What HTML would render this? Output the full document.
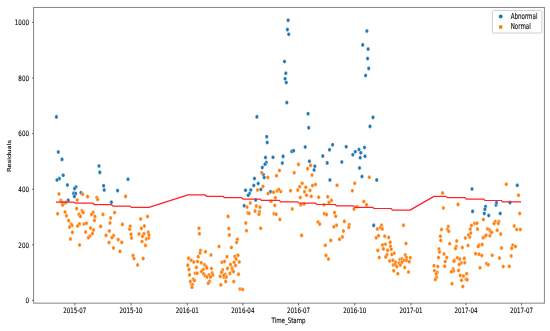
<!DOCTYPE html>
<html lang="en"><head><meta charset="utf-8"><title>Residuals</title>
<style>
html,body{margin:0;padding:0;background:#fff;}
body{width:550px;height:331px;overflow:hidden;}
svg{display:block;}
text{font-family:"DejaVu Sans","Liberation Sans",sans-serif;fill:#000;stroke:#000;stroke-width:0.12px;}
</style></head><body>
<svg width="550" height="331" viewBox="0 0 550 331">
<defs><filter id="soft" x="-5%" y="-5%" width="110%" height="110%"><feGaussianBlur stdDeviation="0.32"/></filter></defs>
<rect width="550" height="331" fill="#fff"/>
<g filter="url(#soft)">
<g fill="#1f77b4" stroke="#fff" stroke-width="0.35">
<ellipse cx="56.4" cy="116.9" rx="1.7" ry="2.05"/>
<ellipse cx="58.3" cy="152.0" rx="1.7" ry="2.05"/>
<ellipse cx="62.0" cy="159.4" rx="1.7" ry="2.05"/>
<ellipse cx="63.2" cy="175.2" rx="1.7" ry="2.05"/>
<ellipse cx="59.4" cy="178.6" rx="1.7" ry="2.05"/>
<ellipse cx="57.0" cy="180.0" rx="1.7" ry="2.05"/>
<ellipse cx="67.4" cy="185.0" rx="1.7" ry="2.05"/>
<ellipse cx="76.0" cy="187.0" rx="1.7" ry="2.05"/>
<ellipse cx="74.6" cy="188.6" rx="1.7" ry="2.05"/>
<ellipse cx="73.6" cy="193.4" rx="1.7" ry="2.05"/>
<ellipse cx="75.6" cy="193.6" rx="1.7" ry="2.05"/>
<ellipse cx="74.4" cy="196.4" rx="1.7" ry="2.05"/>
<ellipse cx="81.0" cy="192.8" rx="1.7" ry="2.05"/>
<ellipse cx="68.2" cy="200.2" rx="1.7" ry="2.05"/>
<ellipse cx="64.0" cy="203.0" rx="1.7" ry="2.05"/>
<ellipse cx="99.0" cy="166.0" rx="1.7" ry="2.05"/>
<ellipse cx="99.8" cy="172.4" rx="1.7" ry="2.05"/>
<ellipse cx="103.6" cy="185.8" rx="1.7" ry="2.05"/>
<ellipse cx="104.2" cy="190.0" rx="1.7" ry="2.05"/>
<ellipse cx="117.6" cy="190.6" rx="1.7" ry="2.05"/>
<ellipse cx="128.0" cy="179.2" rx="1.7" ry="2.05"/>
<ellipse cx="111.4" cy="202.2" rx="1.7" ry="2.05"/>
<ellipse cx="245.5" cy="190.3" rx="1.7" ry="2.05"/>
<ellipse cx="250.8" cy="190.0" rx="1.7" ry="2.05"/>
<ellipse cx="249.5" cy="193.5" rx="1.7" ry="2.05"/>
<ellipse cx="248.2" cy="195.2" rx="1.7" ry="2.05"/>
<ellipse cx="255.7" cy="200.0" rx="1.7" ry="2.05"/>
<ellipse cx="244.2" cy="205.8" rx="1.7" ry="2.05"/>
<ellipse cx="270.5" cy="191.8" rx="1.7" ry="2.05"/>
<ellipse cx="260.8" cy="189.5" rx="1.7" ry="2.05"/>
<ellipse cx="265.5" cy="157.5" rx="1.7" ry="2.05"/>
<ellipse cx="273.0" cy="157.3" rx="1.7" ry="2.05"/>
<ellipse cx="266.3" cy="162.5" rx="1.7" ry="2.05"/>
<ellipse cx="265.0" cy="164.2" rx="1.7" ry="2.05"/>
<ellipse cx="262.3" cy="167.5" rx="1.7" ry="2.05"/>
<ellipse cx="263.5" cy="174.8" rx="1.7" ry="2.05"/>
<ellipse cx="264.2" cy="177.5" rx="1.7" ry="2.05"/>
<ellipse cx="254.5" cy="178.5" rx="1.7" ry="2.05"/>
<ellipse cx="258.2" cy="183.5" rx="1.7" ry="2.05"/>
<ellipse cx="253.8" cy="185.5" rx="1.7" ry="2.05"/>
<ellipse cx="286.8" cy="102.6" rx="1.7" ry="2.05"/>
<ellipse cx="256.9" cy="116.9" rx="1.7" ry="2.05"/>
<ellipse cx="266.7" cy="136.7" rx="1.7" ry="2.05"/>
<ellipse cx="267.2" cy="142.5" rx="1.7" ry="2.05"/>
<ellipse cx="283.1" cy="156.4" rx="1.7" ry="2.05"/>
<ellipse cx="291.8" cy="151.4" rx="1.7" ry="2.05"/>
<ellipse cx="293.6" cy="150.7" rx="1.7" ry="2.05"/>
<ellipse cx="288.1" cy="20.3" rx="1.7" ry="2.05"/>
<ellipse cx="287.4" cy="29.6" rx="1.7" ry="2.05"/>
<ellipse cx="288.7" cy="34.3" rx="1.7" ry="2.05"/>
<ellipse cx="284.5" cy="61.5" rx="1.7" ry="2.05"/>
<ellipse cx="285.8" cy="73.2" rx="1.7" ry="2.05"/>
<ellipse cx="285.1" cy="78.7" rx="1.7" ry="2.05"/>
<ellipse cx="286.3" cy="82.5" rx="1.7" ry="2.05"/>
<ellipse cx="308.1" cy="113.7" rx="1.7" ry="2.05"/>
<ellipse cx="308.7" cy="127.8" rx="1.7" ry="2.05"/>
<ellipse cx="305.2" cy="147.0" rx="1.7" ry="2.05"/>
<ellipse cx="282.3" cy="163.1" rx="1.7" ry="2.05"/>
<ellipse cx="309.4" cy="161.2" rx="1.7" ry="2.05"/>
<ellipse cx="314.8" cy="166.3" rx="1.7" ry="2.05"/>
<ellipse cx="314.1" cy="170.0" rx="1.7" ry="2.05"/>
<ellipse cx="322.8" cy="156.1" rx="1.7" ry="2.05"/>
<ellipse cx="329.5" cy="149.7" rx="1.7" ry="2.05"/>
<ellipse cx="332.6" cy="144.8" rx="1.7" ry="2.05"/>
<ellipse cx="327.2" cy="162.9" rx="1.7" ry="2.05"/>
<ellipse cx="329.9" cy="180.0" rx="1.7" ry="2.05"/>
<ellipse cx="366.9" cy="31.0" rx="1.7" ry="2.05"/>
<ellipse cx="362.7" cy="44.9" rx="1.7" ry="2.05"/>
<ellipse cx="368.1" cy="49.1" rx="1.7" ry="2.05"/>
<ellipse cx="367.6" cy="58.6" rx="1.7" ry="2.05"/>
<ellipse cx="368.7" cy="68.4" rx="1.7" ry="2.05"/>
<ellipse cx="365.6" cy="75.5" rx="1.7" ry="2.05"/>
<ellipse cx="373.0" cy="117.4" rx="1.7" ry="2.05"/>
<ellipse cx="370.0" cy="126.4" rx="1.7" ry="2.05"/>
<ellipse cx="346.2" cy="146.7" rx="1.7" ry="2.05"/>
<ellipse cx="359.0" cy="149.5" rx="1.7" ry="2.05"/>
<ellipse cx="364.5" cy="147.5" rx="1.7" ry="2.05"/>
<ellipse cx="355.3" cy="151.8" rx="1.7" ry="2.05"/>
<ellipse cx="360.8" cy="152.8" rx="1.7" ry="2.05"/>
<ellipse cx="352.8" cy="154.8" rx="1.7" ry="2.05"/>
<ellipse cx="365.0" cy="156.2" rx="1.7" ry="2.05"/>
<ellipse cx="360.2" cy="157.7" rx="1.7" ry="2.05"/>
<ellipse cx="341.8" cy="162.0" rx="1.7" ry="2.05"/>
<ellipse cx="359.5" cy="168.0" rx="1.7" ry="2.05"/>
<ellipse cx="362.0" cy="176.5" rx="1.7" ry="2.05"/>
<ellipse cx="376.7" cy="180.0" rx="1.7" ry="2.05"/>
<ellipse cx="373.7" cy="225.4" rx="1.7" ry="2.05"/>
<ellipse cx="472.0" cy="189.0" rx="1.7" ry="2.05"/>
<ellipse cx="472.6" cy="211.4" rx="1.7" ry="2.05"/>
<ellipse cx="485.5" cy="206.6" rx="1.7" ry="2.05"/>
<ellipse cx="484.9" cy="209.3" rx="1.7" ry="2.05"/>
<ellipse cx="484.3" cy="213.5" rx="1.7" ry="2.05"/>
<ellipse cx="488.7" cy="215.5" rx="1.7" ry="2.05"/>
<ellipse cx="500.2" cy="213.5" rx="1.7" ry="2.05"/>
<ellipse cx="496.0" cy="205.0" rx="1.7" ry="2.05"/>
<ellipse cx="496.5" cy="202.7" rx="1.7" ry="2.05"/>
<ellipse cx="510.0" cy="202.6" rx="1.7" ry="2.05"/>
<ellipse cx="517.3" cy="185.3" rx="1.7" ry="2.05"/>
</g>
<g fill="#ff7f0e" stroke="#fff" stroke-width="0.35">
<ellipse cx="59.0" cy="194.0" rx="1.7" ry="2.05"/>
<ellipse cx="60.8" cy="200.6" rx="1.7" ry="2.05"/>
<ellipse cx="62.0" cy="202.4" rx="1.7" ry="2.05"/>
<ellipse cx="62.6" cy="205.0" rx="1.7" ry="2.05"/>
<ellipse cx="66.0" cy="202.4" rx="1.7" ry="2.05"/>
<ellipse cx="82.6" cy="194.2" rx="1.7" ry="2.05"/>
<ellipse cx="87.6" cy="196.6" rx="1.7" ry="2.05"/>
<ellipse cx="77.2" cy="200.0" rx="1.7" ry="2.05"/>
<ellipse cx="96.8" cy="197.6" rx="1.7" ry="2.05"/>
<ellipse cx="97.6" cy="199.4" rx="1.7" ry="2.05"/>
<ellipse cx="125.6" cy="196.4" rx="1.7" ry="2.05"/>
<ellipse cx="76.6" cy="208.6" rx="1.7" ry="2.05"/>
<ellipse cx="65.0" cy="212.0" rx="1.7" ry="2.05"/>
<ellipse cx="57.6" cy="213.8" rx="1.7" ry="2.05"/>
<ellipse cx="82.0" cy="210.8" rx="1.7" ry="2.05"/>
<ellipse cx="83.2" cy="212.4" rx="1.7" ry="2.05"/>
<ellipse cx="93.1" cy="212.4" rx="1.7" ry="2.05"/>
<ellipse cx="91.5" cy="214.4" rx="1.7" ry="2.05"/>
<ellipse cx="79.0" cy="214.4" rx="1.7" ry="2.05"/>
<ellipse cx="66.4" cy="215.8" rx="1.7" ry="2.05"/>
<ellipse cx="103.0" cy="214.4" rx="1.7" ry="2.05"/>
<ellipse cx="114.6" cy="212.5" rx="1.7" ry="2.05"/>
<ellipse cx="95.0" cy="216.5" rx="1.7" ry="2.05"/>
<ellipse cx="147.5" cy="216.5" rx="1.7" ry="2.05"/>
<ellipse cx="68.6" cy="220.6" rx="1.7" ry="2.05"/>
<ellipse cx="71.0" cy="224.0" rx="1.7" ry="2.05"/>
<ellipse cx="72.0" cy="225.4" rx="1.7" ry="2.05"/>
<ellipse cx="69.6" cy="227.0" rx="1.7" ry="2.05"/>
<ellipse cx="72.4" cy="232.4" rx="1.7" ry="2.05"/>
<ellipse cx="70.4" cy="239.0" rx="1.7" ry="2.05"/>
<ellipse cx="79.6" cy="245.0" rx="1.7" ry="2.05"/>
<ellipse cx="80.4" cy="216.4" rx="1.7" ry="2.05"/>
<ellipse cx="79.4" cy="224.0" rx="1.7" ry="2.05"/>
<ellipse cx="77.6" cy="226.0" rx="1.7" ry="2.05"/>
<ellipse cx="84.0" cy="224.0" rx="1.7" ry="2.05"/>
<ellipse cx="86.4" cy="223.2" rx="1.7" ry="2.05"/>
<ellipse cx="85.6" cy="232.0" rx="1.7" ry="2.05"/>
<ellipse cx="90.6" cy="228.0" rx="1.7" ry="2.05"/>
<ellipse cx="93.6" cy="230.0" rx="1.7" ry="2.05"/>
<ellipse cx="92.4" cy="233.6" rx="1.7" ry="2.05"/>
<ellipse cx="90.0" cy="236.0" rx="1.7" ry="2.05"/>
<ellipse cx="88.4" cy="237.6" rx="1.7" ry="2.05"/>
<ellipse cx="94.4" cy="220.4" rx="1.7" ry="2.05"/>
<ellipse cx="100.6" cy="226.4" rx="1.7" ry="2.05"/>
<ellipse cx="110.6" cy="218.0" rx="1.7" ry="2.05"/>
<ellipse cx="110.0" cy="223.0" rx="1.7" ry="2.05"/>
<ellipse cx="109.4" cy="231.0" rx="1.7" ry="2.05"/>
<ellipse cx="106.0" cy="235.4" rx="1.7" ry="2.05"/>
<ellipse cx="113.6" cy="235.6" rx="1.7" ry="2.05"/>
<ellipse cx="112.0" cy="237.6" rx="1.7" ry="2.05"/>
<ellipse cx="109.0" cy="242.6" rx="1.7" ry="2.05"/>
<ellipse cx="113.4" cy="248.0" rx="1.7" ry="2.05"/>
<ellipse cx="118.2" cy="239.6" rx="1.7" ry="2.05"/>
<ellipse cx="121.8" cy="242.4" rx="1.7" ry="2.05"/>
<ellipse cx="122.4" cy="224.4" rx="1.7" ry="2.05"/>
<ellipse cx="120.0" cy="251.4" rx="1.7" ry="2.05"/>
<ellipse cx="130.2" cy="226.2" rx="1.7" ry="2.05"/>
<ellipse cx="129.7" cy="229.2" rx="1.7" ry="2.05"/>
<ellipse cx="131.0" cy="234.2" rx="1.7" ry="2.05"/>
<ellipse cx="131.5" cy="238.0" rx="1.7" ry="2.05"/>
<ellipse cx="133.0" cy="255.6" rx="1.7" ry="2.05"/>
<ellipse cx="134.0" cy="258.6" rx="1.7" ry="2.05"/>
<ellipse cx="137.6" cy="265.0" rx="1.7" ry="2.05"/>
<ellipse cx="143.2" cy="258.6" rx="1.7" ry="2.05"/>
<ellipse cx="145.4" cy="245.4" rx="1.7" ry="2.05"/>
<ellipse cx="142.0" cy="241.5" rx="1.7" ry="2.05"/>
<ellipse cx="139.0" cy="234.0" rx="1.7" ry="2.05"/>
<ellipse cx="144.0" cy="233.8" rx="1.7" ry="2.05"/>
<ellipse cx="142.5" cy="236.3" rx="1.7" ry="2.05"/>
<ellipse cx="146.3" cy="239.0" rx="1.7" ry="2.05"/>
<ellipse cx="148.8" cy="238.0" rx="1.7" ry="2.05"/>
<ellipse cx="141.4" cy="228.4" rx="1.7" ry="2.05"/>
<ellipse cx="144.4" cy="226.0" rx="1.7" ry="2.05"/>
<ellipse cx="148.3" cy="232.4" rx="1.7" ry="2.05"/>
<ellipse cx="140.6" cy="219.0" rx="1.7" ry="2.05"/>
<ellipse cx="149.0" cy="235.0" rx="1.7" ry="2.05"/>
<ellipse cx="199.0" cy="228.2" rx="1.7" ry="2.05"/>
<ellipse cx="199.4" cy="233.8" rx="1.7" ry="2.05"/>
<ellipse cx="228.1" cy="216.4" rx="1.7" ry="2.05"/>
<ellipse cx="228.8" cy="228.6" rx="1.7" ry="2.05"/>
<ellipse cx="229.4" cy="235.0" rx="1.7" ry="2.05"/>
<ellipse cx="237.4" cy="239.3" rx="1.7" ry="2.05"/>
<ellipse cx="236.6" cy="242.5" rx="1.7" ry="2.05"/>
<ellipse cx="219.0" cy="246.5" rx="1.7" ry="2.05"/>
<ellipse cx="231.4" cy="247.5" rx="1.7" ry="2.05"/>
<ellipse cx="200.5" cy="250.5" rx="1.7" ry="2.05"/>
<ellipse cx="200.0" cy="253.0" rx="1.7" ry="2.05"/>
<ellipse cx="205.5" cy="251.8" rx="1.7" ry="2.05"/>
<ellipse cx="211.0" cy="255.0" rx="1.7" ry="2.05"/>
<ellipse cx="198.2" cy="256.7" rx="1.7" ry="2.05"/>
<ellipse cx="188.5" cy="258.3" rx="1.7" ry="2.05"/>
<ellipse cx="191.3" cy="260.3" rx="1.7" ry="2.05"/>
<ellipse cx="193.8" cy="262.0" rx="1.7" ry="2.05"/>
<ellipse cx="197.5" cy="261.5" rx="1.7" ry="2.05"/>
<ellipse cx="201.2" cy="262.8" rx="1.7" ry="2.05"/>
<ellipse cx="204.5" cy="264.8" rx="1.7" ry="2.05"/>
<ellipse cx="206.0" cy="266.2" rx="1.7" ry="2.05"/>
<ellipse cx="206.8" cy="268.0" rx="1.7" ry="2.05"/>
<ellipse cx="187.7" cy="265.2" rx="1.7" ry="2.05"/>
<ellipse cx="196.4" cy="267.4" rx="1.7" ry="2.05"/>
<ellipse cx="189.0" cy="269.4" rx="1.7" ry="2.05"/>
<ellipse cx="203.2" cy="269.5" rx="1.7" ry="2.05"/>
<ellipse cx="201.5" cy="271.5" rx="1.7" ry="2.05"/>
<ellipse cx="211.5" cy="268.5" rx="1.7" ry="2.05"/>
<ellipse cx="195.3" cy="273.2" rx="1.7" ry="2.05"/>
<ellipse cx="197.1" cy="273.2" rx="1.7" ry="2.05"/>
<ellipse cx="189.5" cy="274.9" rx="1.7" ry="2.05"/>
<ellipse cx="203.5" cy="273.7" rx="1.7" ry="2.05"/>
<ellipse cx="205.0" cy="275.8" rx="1.7" ry="2.05"/>
<ellipse cx="209.0" cy="275.0" rx="1.7" ry="2.05"/>
<ellipse cx="212.2" cy="273.0" rx="1.7" ry="2.05"/>
<ellipse cx="212.8" cy="275.1" rx="1.7" ry="2.05"/>
<ellipse cx="227.0" cy="256.8" rx="1.7" ry="2.05"/>
<ellipse cx="234.8" cy="256.6" rx="1.7" ry="2.05"/>
<ellipse cx="222.0" cy="262.2" rx="1.7" ry="2.05"/>
<ellipse cx="224.5" cy="261.5" rx="1.7" ry="2.05"/>
<ellipse cx="230.5" cy="264.5" rx="1.7" ry="2.05"/>
<ellipse cx="234.1" cy="262.3" rx="1.7" ry="2.05"/>
<ellipse cx="227.5" cy="268.4" rx="1.7" ry="2.05"/>
<ellipse cx="232.0" cy="267.7" rx="1.7" ry="2.05"/>
<ellipse cx="232.3" cy="269.5" rx="1.7" ry="2.05"/>
<ellipse cx="222.7" cy="270.0" rx="1.7" ry="2.05"/>
<ellipse cx="221.5" cy="272.3" rx="1.7" ry="2.05"/>
<ellipse cx="225.0" cy="274.3" rx="1.7" ry="2.05"/>
<ellipse cx="220.2" cy="276.4" rx="1.7" ry="2.05"/>
<ellipse cx="230.0" cy="273.4" rx="1.7" ry="2.05"/>
<ellipse cx="233.4" cy="271.5" rx="1.7" ry="2.05"/>
<ellipse cx="207.0" cy="277.0" rx="1.7" ry="2.05"/>
<ellipse cx="210.5" cy="277.0" rx="1.7" ry="2.05"/>
<ellipse cx="193.3" cy="279.3" rx="1.7" ry="2.05"/>
<ellipse cx="194.5" cy="280.5" rx="1.7" ry="2.05"/>
<ellipse cx="190.3" cy="281.5" rx="1.7" ry="2.05"/>
<ellipse cx="191.5" cy="284.5" rx="1.7" ry="2.05"/>
<ellipse cx="192.5" cy="284.8" rx="1.7" ry="2.05"/>
<ellipse cx="192.0" cy="287.2" rx="1.7" ry="2.05"/>
<ellipse cx="209.5" cy="281.3" rx="1.7" ry="2.05"/>
<ellipse cx="208.2" cy="283.2" rx="1.7" ry="2.05"/>
<ellipse cx="224.0" cy="277.3" rx="1.7" ry="2.05"/>
<ellipse cx="226.3" cy="277.1" rx="1.7" ry="2.05"/>
<ellipse cx="225.7" cy="281.6" rx="1.7" ry="2.05"/>
<ellipse cx="220.8" cy="284.9" rx="1.7" ry="2.05"/>
<ellipse cx="233.7" cy="281.5" rx="1.7" ry="2.05"/>
<ellipse cx="223.8" cy="275.5" rx="1.7" ry="2.05"/>
<ellipse cx="238.0" cy="255.3" rx="1.7" ry="2.05"/>
<ellipse cx="236.2" cy="259.0" rx="1.7" ry="2.05"/>
<ellipse cx="239.3" cy="262.0" rx="1.7" ry="2.05"/>
<ellipse cx="235.5" cy="265.5" rx="1.7" ry="2.05"/>
<ellipse cx="238.5" cy="274.2" rx="1.7" ry="2.05"/>
<ellipse cx="240.0" cy="289.0" rx="1.7" ry="2.05"/>
<ellipse cx="242.7" cy="289.5" rx="1.7" ry="2.05"/>
<ellipse cx="246.5" cy="230.7" rx="1.7" ry="2.05"/>
<ellipse cx="260.7" cy="228.3" rx="1.7" ry="2.05"/>
<ellipse cx="257.5" cy="190.0" rx="1.7" ry="2.05"/>
<ellipse cx="250.3" cy="203.0" rx="1.7" ry="2.05"/>
<ellipse cx="247.0" cy="207.0" rx="1.7" ry="2.05"/>
<ellipse cx="256.3" cy="206.0" rx="1.7" ry="2.05"/>
<ellipse cx="260.0" cy="207.2" rx="1.7" ry="2.05"/>
<ellipse cx="255.0" cy="211.1" rx="1.7" ry="2.05"/>
<ellipse cx="259.5" cy="211.7" rx="1.7" ry="2.05"/>
<ellipse cx="247.7" cy="213.0" rx="1.7" ry="2.05"/>
<ellipse cx="249.1" cy="213.3" rx="1.7" ry="2.05"/>
<ellipse cx="259.0" cy="214.2" rx="1.7" ry="2.05"/>
<ellipse cx="245.8" cy="223.1" rx="1.7" ry="2.05"/>
<ellipse cx="268.2" cy="193.5" rx="1.7" ry="2.05"/>
<ellipse cx="273.5" cy="192.2" rx="1.7" ry="2.05"/>
<ellipse cx="277.0" cy="191.0" rx="1.7" ry="2.05"/>
<ellipse cx="280.8" cy="191.5" rx="1.7" ry="2.05"/>
<ellipse cx="278.8" cy="189.5" rx="1.7" ry="2.05"/>
<ellipse cx="275.4" cy="197.8" rx="1.7" ry="2.05"/>
<ellipse cx="271.0" cy="201.2" rx="1.7" ry="2.05"/>
<ellipse cx="274.8" cy="205.5" rx="1.7" ry="2.05"/>
<ellipse cx="274.0" cy="213.8" rx="1.7" ry="2.05"/>
<ellipse cx="276.1" cy="214.2" rx="1.7" ry="2.05"/>
<ellipse cx="279.9" cy="219.5" rx="1.7" ry="2.05"/>
<ellipse cx="261.7" cy="172.7" rx="1.7" ry="2.05"/>
<ellipse cx="267.8" cy="177.5" rx="1.7" ry="2.05"/>
<ellipse cx="276.5" cy="175.8" rx="1.7" ry="2.05"/>
<ellipse cx="279.5" cy="170.5" rx="1.7" ry="2.05"/>
<ellipse cx="263.0" cy="186.5" rx="1.7" ry="2.05"/>
<ellipse cx="298.5" cy="164.4" rx="1.7" ry="2.05"/>
<ellipse cx="310.6" cy="165.4" rx="1.7" ry="2.05"/>
<ellipse cx="307.6" cy="168.7" rx="1.7" ry="2.05"/>
<ellipse cx="294.2" cy="172.8" rx="1.7" ry="2.05"/>
<ellipse cx="312.0" cy="175.0" rx="1.7" ry="2.05"/>
<ellipse cx="302.2" cy="183.3" rx="1.7" ry="2.05"/>
<ellipse cx="299.7" cy="186.7" rx="1.7" ry="2.05"/>
<ellipse cx="305.8" cy="187.2" rx="1.7" ry="2.05"/>
<ellipse cx="312.5" cy="185.5" rx="1.7" ry="2.05"/>
<ellipse cx="315.5" cy="184.5" rx="1.7" ry="2.05"/>
<ellipse cx="297.8" cy="190.1" rx="1.7" ry="2.05"/>
<ellipse cx="290.5" cy="190.7" rx="1.7" ry="2.05"/>
<ellipse cx="310.0" cy="190.5" rx="1.7" ry="2.05"/>
<ellipse cx="304.5" cy="191.8" rx="1.7" ry="2.05"/>
<ellipse cx="306.5" cy="195.2" rx="1.7" ry="2.05"/>
<ellipse cx="300.3" cy="197.5" rx="1.7" ry="2.05"/>
<ellipse cx="311.3" cy="196.3" rx="1.7" ry="2.05"/>
<ellipse cx="318.7" cy="197.2" rx="1.7" ry="2.05"/>
<ellipse cx="327.7" cy="196.8" rx="1.7" ry="2.05"/>
<ellipse cx="300.8" cy="204.8" rx="1.7" ry="2.05"/>
<ellipse cx="304.0" cy="204.0" rx="1.7" ry="2.05"/>
<ellipse cx="292.3" cy="209.0" rx="1.7" ry="2.05"/>
<ellipse cx="324.0" cy="204.8" rx="1.7" ry="2.05"/>
<ellipse cx="329.0" cy="202.5" rx="1.7" ry="2.05"/>
<ellipse cx="324.2" cy="213.8" rx="1.7" ry="2.05"/>
<ellipse cx="326.5" cy="214.6" rx="1.7" ry="2.05"/>
<ellipse cx="318.0" cy="222.0" rx="1.7" ry="2.05"/>
<ellipse cx="319.7" cy="224.1" rx="1.7" ry="2.05"/>
<ellipse cx="301.6" cy="235.4" rx="1.7" ry="2.05"/>
<ellipse cx="335.7" cy="216.3" rx="1.7" ry="2.05"/>
<ellipse cx="344.4" cy="221.4" rx="1.7" ry="2.05"/>
<ellipse cx="349.3" cy="224.7" rx="1.7" ry="2.05"/>
<ellipse cx="348.8" cy="227.2" rx="1.7" ry="2.05"/>
<ellipse cx="336.5" cy="225.3" rx="1.7" ry="2.05"/>
<ellipse cx="333.9" cy="226.7" rx="1.7" ry="2.05"/>
<ellipse cx="343.4" cy="231.0" rx="1.7" ry="2.05"/>
<ellipse cx="342.4" cy="237.0" rx="1.7" ry="2.05"/>
<ellipse cx="339.5" cy="239.3" rx="1.7" ry="2.05"/>
<ellipse cx="330.8" cy="240.4" rx="1.7" ry="2.05"/>
<ellipse cx="325.3" cy="245.3" rx="1.7" ry="2.05"/>
<ellipse cx="326.0" cy="255.4" rx="1.7" ry="2.05"/>
<ellipse cx="328.4" cy="259.0" rx="1.7" ry="2.05"/>
<ellipse cx="369.3" cy="177.3" rx="1.7" ry="2.05"/>
<ellipse cx="354.7" cy="183.2" rx="1.7" ry="2.05"/>
<ellipse cx="337.0" cy="185.2" rx="1.7" ry="2.05"/>
<ellipse cx="352.3" cy="190.7" rx="1.7" ry="2.05"/>
<ellipse cx="331.5" cy="200.5" rx="1.7" ry="2.05"/>
<ellipse cx="363.8" cy="201.5" rx="1.7" ry="2.05"/>
<ellipse cx="366.5" cy="204.7" rx="1.7" ry="2.05"/>
<ellipse cx="356.8" cy="206.8" rx="1.7" ry="2.05"/>
<ellipse cx="354.0" cy="209.0" rx="1.7" ry="2.05"/>
<ellipse cx="334.5" cy="212.5" rx="1.7" ry="2.05"/>
<ellipse cx="381.5" cy="225.2" rx="1.7" ry="2.05"/>
<ellipse cx="377.3" cy="229.0" rx="1.7" ry="2.05"/>
<ellipse cx="380.5" cy="227.8" rx="1.7" ry="2.05"/>
<ellipse cx="382.3" cy="229.0" rx="1.7" ry="2.05"/>
<ellipse cx="403.5" cy="225.3" rx="1.7" ry="2.05"/>
<ellipse cx="378.5" cy="235.8" rx="1.7" ry="2.05"/>
<ellipse cx="376.2" cy="237.8" rx="1.7" ry="2.05"/>
<ellipse cx="384.7" cy="236.3" rx="1.7" ry="2.05"/>
<ellipse cx="388.7" cy="237.5" rx="1.7" ry="2.05"/>
<ellipse cx="390.2" cy="242.2" rx="1.7" ry="2.05"/>
<ellipse cx="406.0" cy="243.5" rx="1.7" ry="2.05"/>
<ellipse cx="385.3" cy="244.3" rx="1.7" ry="2.05"/>
<ellipse cx="382.5" cy="245.0" rx="1.7" ry="2.05"/>
<ellipse cx="390.5" cy="246.4" rx="1.7" ry="2.05"/>
<ellipse cx="383.4" cy="248.9" rx="1.7" ry="2.05"/>
<ellipse cx="391.3" cy="249.2" rx="1.7" ry="2.05"/>
<ellipse cx="377.8" cy="250.4" rx="1.7" ry="2.05"/>
<ellipse cx="387.6" cy="250.4" rx="1.7" ry="2.05"/>
<ellipse cx="394.2" cy="253.2" rx="1.7" ry="2.05"/>
<ellipse cx="391.8" cy="254.5" rx="1.7" ry="2.05"/>
<ellipse cx="387.0" cy="254.8" rx="1.7" ry="2.05"/>
<ellipse cx="385.7" cy="257.0" rx="1.7" ry="2.05"/>
<ellipse cx="379.2" cy="257.5" rx="1.7" ry="2.05"/>
<ellipse cx="405.3" cy="255.0" rx="1.7" ry="2.05"/>
<ellipse cx="406.5" cy="257.5" rx="1.7" ry="2.05"/>
<ellipse cx="410.3" cy="257.8" rx="1.7" ry="2.05"/>
<ellipse cx="389.7" cy="261.0" rx="1.7" ry="2.05"/>
<ellipse cx="392.8" cy="260.2" rx="1.7" ry="2.05"/>
<ellipse cx="400.0" cy="259.5" rx="1.7" ry="2.05"/>
<ellipse cx="402.0" cy="259.0" rx="1.7" ry="2.05"/>
<ellipse cx="403.8" cy="260.5" rx="1.7" ry="2.05"/>
<ellipse cx="406.5" cy="260.2" rx="1.7" ry="2.05"/>
<ellipse cx="409.2" cy="261.8" rx="1.7" ry="2.05"/>
<ellipse cx="395.5" cy="262.2" rx="1.7" ry="2.05"/>
<ellipse cx="399.0" cy="263.0" rx="1.7" ry="2.05"/>
<ellipse cx="401.8" cy="262.2" rx="1.7" ry="2.05"/>
<ellipse cx="393.2" cy="265.0" rx="1.7" ry="2.05"/>
<ellipse cx="395.0" cy="264.5" rx="1.7" ry="2.05"/>
<ellipse cx="396.8" cy="266.5" rx="1.7" ry="2.05"/>
<ellipse cx="400.3" cy="265.0" rx="1.7" ry="2.05"/>
<ellipse cx="404.7" cy="267.5" rx="1.7" ry="2.05"/>
<ellipse cx="393.7" cy="270.7" rx="1.7" ry="2.05"/>
<ellipse cx="397.8" cy="273.7" rx="1.7" ry="2.05"/>
<ellipse cx="408.5" cy="272.0" rx="1.7" ry="2.05"/>
<ellipse cx="442.6" cy="193.0" rx="1.7" ry="2.05"/>
<ellipse cx="443.4" cy="208.0" rx="1.7" ry="2.05"/>
<ellipse cx="458.0" cy="204.4" rx="1.7" ry="2.05"/>
<ellipse cx="441.5" cy="229.5" rx="1.7" ry="2.05"/>
<ellipse cx="448.2" cy="226.6" rx="1.7" ry="2.05"/>
<ellipse cx="447.5" cy="229.5" rx="1.7" ry="2.05"/>
<ellipse cx="448.8" cy="231.2" rx="1.7" ry="2.05"/>
<ellipse cx="440.4" cy="236.2" rx="1.7" ry="2.05"/>
<ellipse cx="440.7" cy="240.5" rx="1.7" ry="2.05"/>
<ellipse cx="449.7" cy="243.8" rx="1.7" ry="2.05"/>
<ellipse cx="456.7" cy="241.0" rx="1.7" ry="2.05"/>
<ellipse cx="456.2" cy="246.5" rx="1.7" ry="2.05"/>
<ellipse cx="455.5" cy="248.5" rx="1.7" ry="2.05"/>
<ellipse cx="462.3" cy="247.5" rx="1.7" ry="2.05"/>
<ellipse cx="465.3" cy="238.0" rx="1.7" ry="2.05"/>
<ellipse cx="468.0" cy="245.5" rx="1.7" ry="2.05"/>
<ellipse cx="469.7" cy="237.0" rx="1.7" ry="2.05"/>
<ellipse cx="468.5" cy="235.0" rx="1.7" ry="2.05"/>
<ellipse cx="470.8" cy="233.0" rx="1.7" ry="2.05"/>
<ellipse cx="470.3" cy="229.0" rx="1.7" ry="2.05"/>
<ellipse cx="471.5" cy="225.5" rx="1.7" ry="2.05"/>
<ellipse cx="474.6" cy="223.5" rx="1.7" ry="2.05"/>
<ellipse cx="477.0" cy="223.2" rx="1.7" ry="2.05"/>
<ellipse cx="477.5" cy="229.1" rx="1.7" ry="2.05"/>
<ellipse cx="483.4" cy="219.5" rx="1.7" ry="2.05"/>
<ellipse cx="483.0" cy="237.7" rx="1.7" ry="2.05"/>
<ellipse cx="484.8" cy="236.5" rx="1.7" ry="2.05"/>
<ellipse cx="479.0" cy="245.0" rx="1.7" ry="2.05"/>
<ellipse cx="482.2" cy="244.5" rx="1.7" ry="2.05"/>
<ellipse cx="478.2" cy="246.5" rx="1.7" ry="2.05"/>
<ellipse cx="439.0" cy="249.0" rx="1.7" ry="2.05"/>
<ellipse cx="439.5" cy="252.0" rx="1.7" ry="2.05"/>
<ellipse cx="444.0" cy="254.0" rx="1.7" ry="2.05"/>
<ellipse cx="475.6" cy="253.7" rx="1.7" ry="2.05"/>
<ellipse cx="479.1" cy="254.2" rx="1.7" ry="2.05"/>
<ellipse cx="481.8" cy="255.5" rx="1.7" ry="2.05"/>
<ellipse cx="438.5" cy="257.5" rx="1.7" ry="2.05"/>
<ellipse cx="446.8" cy="257.5" rx="1.7" ry="2.05"/>
<ellipse cx="445.2" cy="261.5" rx="1.7" ry="2.05"/>
<ellipse cx="444.7" cy="266.2" rx="1.7" ry="2.05"/>
<ellipse cx="434.0" cy="265.7" rx="1.7" ry="2.05"/>
<ellipse cx="437.8" cy="266.5" rx="1.7" ry="2.05"/>
<ellipse cx="434.5" cy="270.8" rx="1.7" ry="2.05"/>
<ellipse cx="437.2" cy="272.5" rx="1.7" ry="2.05"/>
<ellipse cx="436.2" cy="274.0" rx="1.7" ry="2.05"/>
<ellipse cx="436.5" cy="277.5" rx="1.7" ry="2.05"/>
<ellipse cx="435.3" cy="279.5" rx="1.7" ry="2.05"/>
<ellipse cx="457.3" cy="257.8" rx="1.7" ry="2.05"/>
<ellipse cx="459.7" cy="259.0" rx="1.7" ry="2.05"/>
<ellipse cx="464.3" cy="258.2" rx="1.7" ry="2.05"/>
<ellipse cx="454.5" cy="260.2" rx="1.7" ry="2.05"/>
<ellipse cx="454.0" cy="261.2" rx="1.7" ry="2.05"/>
<ellipse cx="461.2" cy="263.0" rx="1.7" ry="2.05"/>
<ellipse cx="464.7" cy="262.7" rx="1.7" ry="2.05"/>
<ellipse cx="459.2" cy="264.5" rx="1.7" ry="2.05"/>
<ellipse cx="453.2" cy="269.0" rx="1.7" ry="2.05"/>
<ellipse cx="453.7" cy="271.0" rx="1.7" ry="2.05"/>
<ellipse cx="451.3" cy="271.8" rx="1.7" ry="2.05"/>
<ellipse cx="458.5" cy="270.5" rx="1.7" ry="2.05"/>
<ellipse cx="460.3" cy="275.5" rx="1.7" ry="2.05"/>
<ellipse cx="463.5" cy="276.0" rx="1.7" ry="2.05"/>
<ellipse cx="466.7" cy="273.7" rx="1.7" ry="2.05"/>
<ellipse cx="461.5" cy="280.2" rx="1.7" ry="2.05"/>
<ellipse cx="466.0" cy="279.2" rx="1.7" ry="2.05"/>
<ellipse cx="467.2" cy="279.8" rx="1.7" ry="2.05"/>
<ellipse cx="452.0" cy="283.8" rx="1.7" ry="2.05"/>
<ellipse cx="462.8" cy="286.5" rx="1.7" ry="2.05"/>
<ellipse cx="480.0" cy="267.7" rx="1.7" ry="2.05"/>
<ellipse cx="506.3" cy="184.3" rx="1.7" ry="2.05"/>
<ellipse cx="518.5" cy="195.3" rx="1.7" ry="2.05"/>
<ellipse cx="519.7" cy="213.5" rx="1.7" ry="2.05"/>
<ellipse cx="495.2" cy="221.5" rx="1.7" ry="2.05"/>
<ellipse cx="498.8" cy="221.5" rx="1.7" ry="2.05"/>
<ellipse cx="494.0" cy="223.5" rx="1.7" ry="2.05"/>
<ellipse cx="498.3" cy="223.5" rx="1.7" ry="2.05"/>
<ellipse cx="514.2" cy="226.0" rx="1.7" ry="2.05"/>
<ellipse cx="516.7" cy="229.5" rx="1.7" ry="2.05"/>
<ellipse cx="520.3" cy="229.5" rx="1.7" ry="2.05"/>
<ellipse cx="487.5" cy="229.0" rx="1.7" ry="2.05"/>
<ellipse cx="489.5" cy="229.8" rx="1.7" ry="2.05"/>
<ellipse cx="490.5" cy="231.5" rx="1.7" ry="2.05"/>
<ellipse cx="491.7" cy="232.5" rx="1.7" ry="2.05"/>
<ellipse cx="497.2" cy="230.2" rx="1.7" ry="2.05"/>
<ellipse cx="500.7" cy="234.1" rx="1.7" ry="2.05"/>
<ellipse cx="486.1" cy="235.3" rx="1.7" ry="2.05"/>
<ellipse cx="489.9" cy="235.8" rx="1.7" ry="2.05"/>
<ellipse cx="501.5" cy="248.0" rx="1.7" ry="2.05"/>
<ellipse cx="512.7" cy="245.3" rx="1.7" ry="2.05"/>
<ellipse cx="515.5" cy="246.5" rx="1.7" ry="2.05"/>
<ellipse cx="511.7" cy="248.2" rx="1.7" ry="2.05"/>
<ellipse cx="492.2" cy="255.2" rx="1.7" ry="2.05"/>
<ellipse cx="499.5" cy="258.1" rx="1.7" ry="2.05"/>
<ellipse cx="511.2" cy="256.0" rx="1.7" ry="2.05"/>
<ellipse cx="486.5" cy="263.6" rx="1.7" ry="2.05"/>
<ellipse cx="488.2" cy="264.8" rx="1.7" ry="2.05"/>
<ellipse cx="503.2" cy="266.5" rx="1.7" ry="2.05"/>
<ellipse cx="509.3" cy="266.3" rx="1.7" ry="2.05"/>
</g>
<polyline points="56.0,202.15 74.0,202.15 75.5,203.20 93.0,203.20 94.5,204.70 111.5,204.70 113.0,206.15 130.0,206.15 131.5,207.30 149.0,207.30 188.0,194.80 205.0,194.80 206.5,196.30 223.0,196.30 224.5,197.70 241.7,197.70 243.0,199.15 260.0,199.15 261.3,200.30 279.3,200.30 280.5,201.80 297.7,201.80 299.0,203.15 315.7,203.15 317.0,204.50 335.3,204.50 336.5,205.80 353.7,205.80 355.0,207.30 372.7,207.30 374.0,208.50 391.0,208.50 392.5,210.15 410.0,210.15 434.0,196.40 446.0,196.40 447.5,197.70 465.0,197.70 466.5,199.15 483.7,199.15 485.0,200.50 501.3,200.50 502.5,201.80 521.0,201.80" fill="none" stroke="#ff2028" stroke-width="1.22" stroke-linejoin="round"/>
<rect x="33.6" y="7.45" width="510.80" height="295.70" fill="none" stroke="#848484" stroke-width="1"/>
<g stroke="#4a4a4a" stroke-width="0.8">
<line x1="32.00" y1="300.40" x2="33.6" y2="300.40"/>
<line x1="32.00" y1="244.80" x2="33.6" y2="244.80"/>
<line x1="32.00" y1="189.20" x2="33.6" y2="189.20"/>
<line x1="32.00" y1="133.60" x2="33.6" y2="133.60"/>
<line x1="32.00" y1="78.00" x2="33.6" y2="78.00"/>
<line x1="32.00" y1="22.40" x2="33.6" y2="22.40"/>
<line x1="74.80" y1="303.15" x2="74.80" y2="305.55"/>
<line x1="131.03" y1="303.15" x2="131.03" y2="305.55"/>
<line x1="187.26" y1="303.15" x2="187.26" y2="305.55"/>
<line x1="242.88" y1="303.15" x2="242.88" y2="305.55"/>
<line x1="298.51" y1="303.15" x2="298.51" y2="305.55"/>
<line x1="354.74" y1="303.15" x2="354.74" y2="305.55"/>
<line x1="410.97" y1="303.15" x2="410.97" y2="305.55"/>
<line x1="465.98" y1="303.15" x2="465.98" y2="305.55"/>
<line x1="521.60" y1="303.15" x2="521.60" y2="305.55"/>
</g>
<text transform="translate(29.00 303.15) scale(0.745 1)" text-anchor="end" font-size="7.5">0</text>
<text transform="translate(29.00 247.55) scale(0.745 1)" text-anchor="end" font-size="7.5">200</text>
<text transform="translate(29.00 191.95) scale(0.745 1)" text-anchor="end" font-size="7.5">400</text>
<text transform="translate(29.00 136.35) scale(0.745 1)" text-anchor="end" font-size="7.5">600</text>
<text transform="translate(29.00 80.75) scale(0.745 1)" text-anchor="end" font-size="7.5">800</text>
<text transform="translate(29.00 25.15) scale(0.745 1)" text-anchor="end" font-size="7.5">1000</text>
<text transform="translate(74.80 313.30) scale(0.735 1)" text-anchor="middle" font-size="7.5">2015-07</text>
<text transform="translate(131.03 313.30) scale(0.735 1)" text-anchor="middle" font-size="7.5">2015-10</text>
<text transform="translate(187.26 313.30) scale(0.735 1)" text-anchor="middle" font-size="7.5">2016-01</text>
<text transform="translate(242.88 313.30) scale(0.735 1)" text-anchor="middle" font-size="7.5">2016-04</text>
<text transform="translate(298.51 313.30) scale(0.735 1)" text-anchor="middle" font-size="7.5">2016-07</text>
<text transform="translate(354.74 313.30) scale(0.735 1)" text-anchor="middle" font-size="7.5">2016-10</text>
<text transform="translate(410.97 313.30) scale(0.735 1)" text-anchor="middle" font-size="7.5">2017-01</text>
<text transform="translate(465.98 313.30) scale(0.735 1)" text-anchor="middle" font-size="7.5">2017-04</text>
<text transform="translate(521.60 313.30) scale(0.735 1)" text-anchor="middle" font-size="7.5">2017-07</text>
<text transform="translate(288.50 323.30) scale(0.735 1)" text-anchor="middle" font-size="7.5">Time_Stamp</text>
<text transform="translate(11.20 155.90) rotate(-90) scale(0.90 0.735)" text-anchor="middle" font-size="7.5">Residuals</text>
<rect x="492.4" y="10.4" width="49.5" height="22.6" rx="1.2" fill="#fff" fill-opacity="0.8" stroke="#cacaca" stroke-width="0.9"/>
<ellipse cx="500.7" cy="16.5" rx="1.95" ry="2.1" fill="#1f77b4"/>
<ellipse cx="500.7" cy="27.0" rx="1.95" ry="2.1" fill="#ff7f0e"/>
<text transform="translate(510.70 18.60) scale(0.675 1)" text-anchor="start" font-size="8.25">Abnormal</text>
<text transform="translate(510.70 28.90) scale(0.675 1)" text-anchor="start" font-size="8.25">Normal</text>
</g></svg></body></html>
